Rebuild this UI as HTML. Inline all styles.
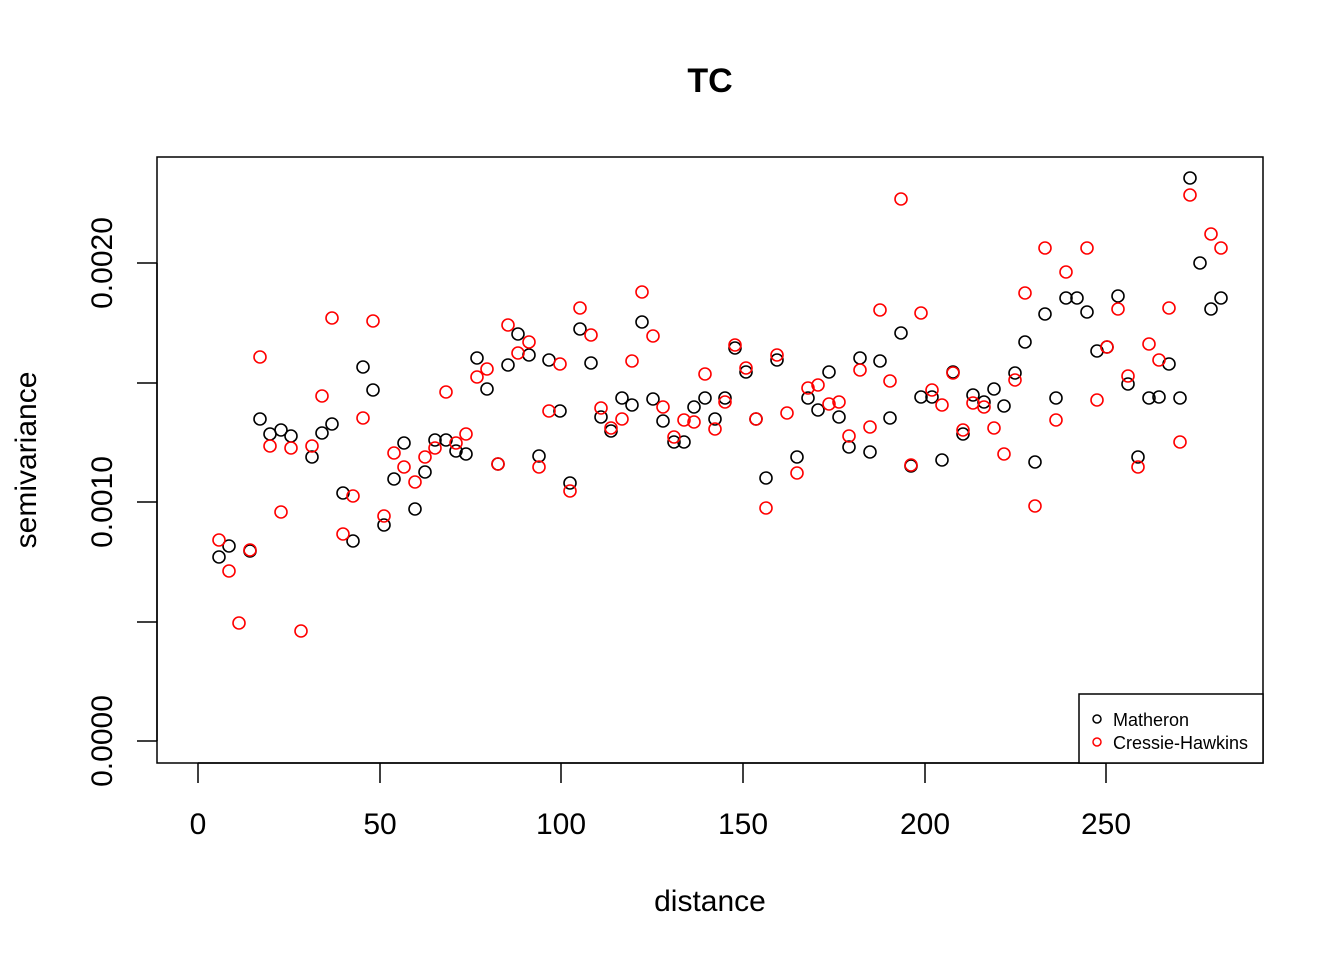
<!DOCTYPE html>
<html><head><meta charset="utf-8"><style>body{margin:0;background:#fff}svg{display:block}</style></head><body>
<svg id="s" width="1344" height="960" xmlns="http://www.w3.org/2000/svg" font-family="Liberation Sans, Arial, sans-serif">
<rect width="1344" height="960" fill="#fff"/>
<text x="710" y="92" font-size="34" font-weight="bold" text-anchor="middle">TC</text>
<rect x="157" y="157" width="1106" height="606" fill="none" stroke="#000" stroke-width="1.5"/>
<g stroke="#000" stroke-width="1.5">
<line x1="198" y1="763" x2="1106" y2="763"/>
<line x1="198" y1="763" x2="198" y2="783"/><line x1="380" y1="763" x2="380" y2="783"/><line x1="561" y1="763" x2="561" y2="783"/><line x1="743" y1="763" x2="743" y2="783"/><line x1="925" y1="763" x2="925" y2="783"/><line x1="1106" y1="763" x2="1106" y2="783"/>
<line x1="157" y1="263" x2="157" y2="741"/>
<line x1="137" y1="741" x2="157" y2="741"/><line x1="137" y1="622" x2="157" y2="622"/><line x1="137" y1="502" x2="157" y2="502"/><line x1="137" y1="383" x2="157" y2="383"/><line x1="137" y1="263" x2="157" y2="263"/>
</g>
<g font-size="30" text-anchor="middle">
<text x="198" y="834">0</text><text x="380" y="834">50</text><text x="561" y="834">100</text><text x="743" y="834">150</text><text x="925" y="834">200</text><text x="1106" y="834">250</text>
<text transform="translate(112,741) rotate(-90)">0.0000</text>
<text transform="translate(112,502) rotate(-90)">0.0010</text>
<text transform="translate(112,263) rotate(-90)">0.0020</text>
<text x="710" y="911">distance</text>
<text transform="translate(36,460) rotate(-90)">semivariance</text>
</g>
<g id="b" fill="none" stroke="#000" stroke-width="1.6"></g>
<g id="r" fill="none" stroke="#f00" stroke-width="1.6"></g>
<rect x="1079" y="694" width="184" height="69" fill="#fff" stroke="#000" stroke-width="1.5"/>
<circle cx="1097" cy="719" r="4" fill="none" stroke="#000" stroke-width="1.5"/>
<circle cx="1097" cy="742" r="4" fill="none" stroke="#f00" stroke-width="1.5"/>
<text x="1113" y="726" font-size="18">Matheron</text>
<text x="1113" y="749" font-size="18">Cressie-Hawkins</text>
</svg>
<script>
var B=[[219,557],[229,546],[250,551],[260,419],[270,434],[281,430],[291,436],[312,457],[322,433],[332,424],[343,493],[353,541],[363,367],[373,390],[384,525],[394,479],[404,443],[415,509],[425,472],[435,440],[446,440],[456,451],[466,454],[477,358],[487,389],[498,464],[508,365],[518,334],[529,355],[539,456],[549,360],[560,411],[570,483],[580,329],[591,363],[601,417],[611,431],[622,398],[632,405],[642,322],[653,399],[663,421],[674,442],[684,442],[694,407],[705,398],[715,419],[725,398],[735,348],[746,372],[756,419],[766,478],[777,360],[797,457],[808,398],[818,410],[829,372],[839,417],[849,447],[860,358],[870,452],[880,361],[890,418],[901,333],[911,466],[921,397],[932,397],[942,460],[953,372],[963,434],[973,395],[984,402],[994,389],[1004,406],[1015,373],[1025,342],[1035,462],[1045,314],[1056,398],[1066,298],[1077,298],[1087,312],[1097,351],[1107,347],[1118,296],[1128,384],[1138,457],[1149,398],[1159,397],[1169,364],[1180,398],[1190,178],[1200,263],[1211,309],[1221,298]];
var R=[[219,540],[229,571],[239,623],[250,550],[260,357],[270,446],[281,512],[291,448],[301,631],[312,446],[322,396],[332,318],[343,534],[353,496],[363,418],[373,321],[384,516],[394,453],[404,467],[415,482],[425,457],[435,448],[446,392],[456,443],[466,434],[477,377],[487,369],[498,464],[508,325],[518,353],[529,342],[539,467],[549,411],[560,364],[570,491],[580,308],[591,335],[601,408],[611,428],[622,419],[632,361],[642,292],[653,336],[663,407],[674,437],[684,420],[694,422],[705,374],[715,429],[725,402],[735,345],[746,368],[756,419],[766,508],[777,355],[787,413],[797,473],[808,388],[818,385],[829,404],[839,402],[849,436],[860,370],[870,427],[880,310],[890,381],[901,199],[911,465],[921,313],[932,390],[942,405],[953,373],[963,430],[973,403],[984,407],[994,428],[1004,454],[1015,380],[1025,293],[1035,506],[1045,248],[1056,420],[1066,272],[1087,248],[1097,400],[1107,347],[1118,309],[1128,376],[1138,467],[1149,344],[1159,360],[1169,308],[1180,442],[1190,195],[1211,234],[1221,248]];
function d(id,a){var g=document.getElementById(id),h='';a.forEach(function(p){h+='<circle cx="'+p[0]+'" cy="'+p[1]+'" r="6"/>';});g.innerHTML=h;}
d('b',B);d('r',R);
</script>
</body></html>
